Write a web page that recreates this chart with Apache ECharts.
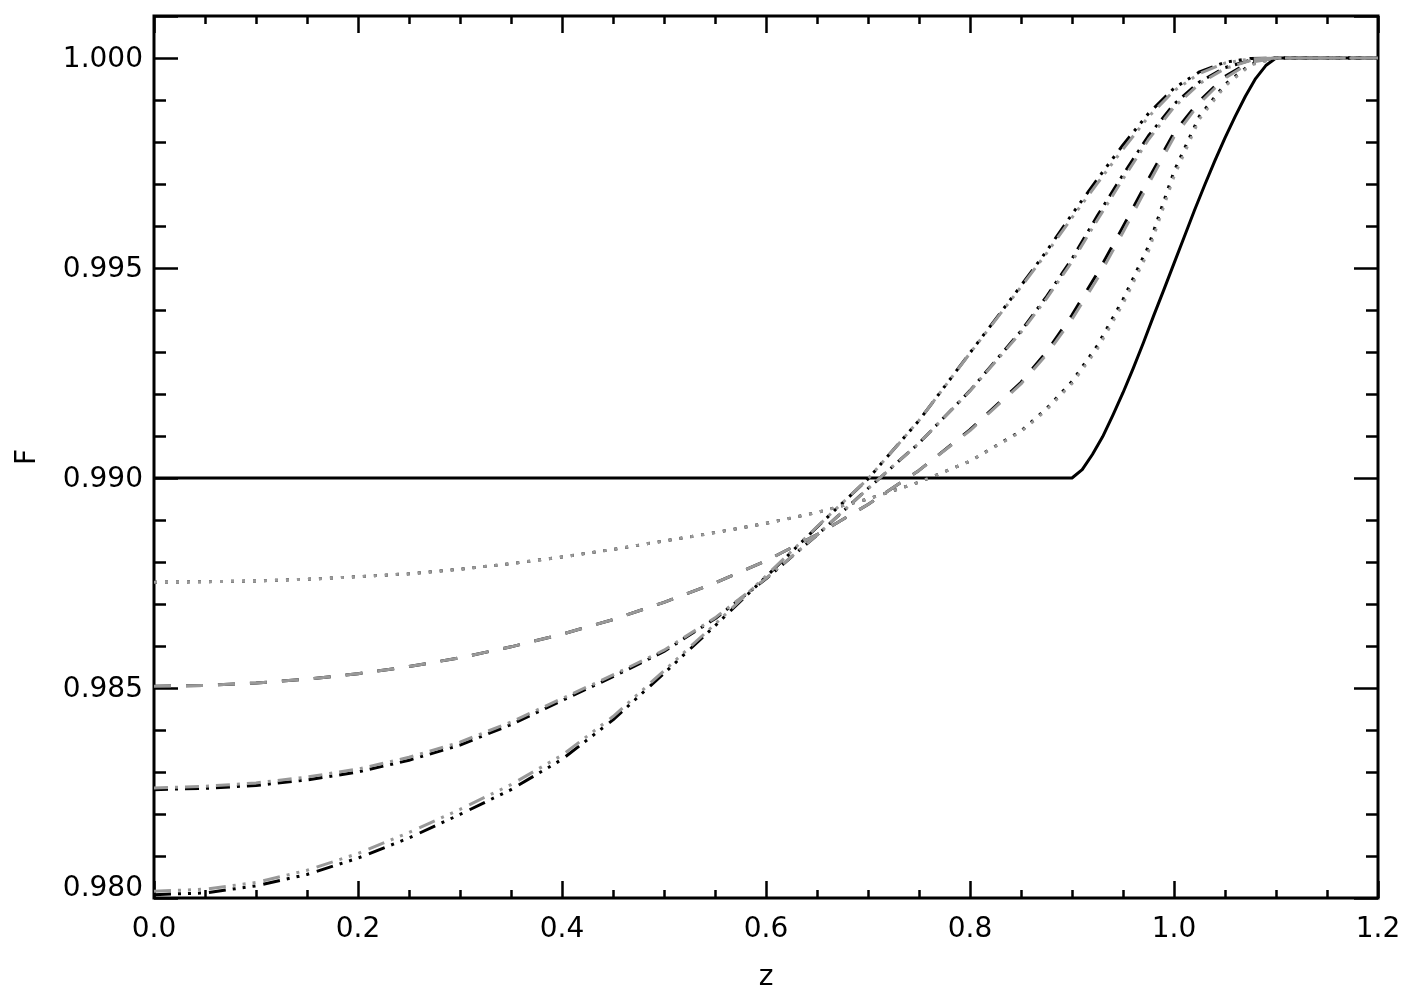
<!DOCTYPE html>
<html>
<head>
<meta charset="utf-8">
<script src="https://cdn.jsdelivr.net/npm/echarts@6/dist/echarts.min.js"></script>
<style>
html,body{margin:0;padding:0;background:#fff;}
#chart{width:1411px;height:997px;}
</style>
</head>
<body>
<div id="chart"></div>
<script>
// ---- data ----
const xTicks = [0.0, 0.2, 0.4, 0.6, 0.8, 1.0, 1.2];
const yTicks = [0.980, 0.985, 0.990, 0.995, 1.000];

// uniform source (solid)
const zSolid = [0, 0.9, 0.91, 0.92, 0.93, 0.94, 0.95, 0.96, 0.97, 0.98, 0.99, 1.0, 1.01, 1.02, 1.03, 1.04, 1.05, 1.06, 1.07, 1.08, 1.09, 1.1, 1.2];
const fSolid = [0.99, 0.99, 0.99020, 0.99056, 0.99098, 0.99149, 0.99203, 0.99261, 0.99322, 0.99386, 0.99448, 0.99511, 0.99574, 0.99637, 0.99697, 0.99755, 0.99810, 0.99861, 0.99909, 0.99951, 0.99982, 1.0, 1.0];

// sampling of the limb-darkened curves
const zLD = [0, 0.05, 0.1, 0.15, 0.2, 0.25, 0.3, 0.35, 0.4, 0.45, 0.5, 0.55, 0.6, 0.65, 0.7, 0.75, 0.8, 0.85, 0.875, 0.9, 0.925, 0.95, 0.975, 1.0, 1.025, 1.05, 1.075, 1.1, 1.2];

// dotted
const fDotBlack = [0.98752, 0.98753, 0.98755, 0.98759, 0.98765, 0.98772, 0.98783, 0.98796, 0.98812, 0.98830, 0.98850, 0.98870, 0.98892, 0.98918, 0.98950, 0.98990, 0.99040, 0.99112, 0.99165, 0.99230, 0.99316, 0.99425, 0.99552, 0.99730, 0.99862, 0.99937, 0.99985, 1.0, 1.0];
const fDotGray  = [0.98752, 0.98753, 0.98755, 0.98759, 0.98765, 0.98772, 0.98783, 0.98796, 0.98812, 0.98830, 0.98850, 0.98870, 0.98892, 0.98918, 0.98950, 0.98990, 0.99040, 0.99110, 0.99162, 0.99225, 0.99308, 0.99415, 0.99540, 0.99718, 0.99855, 0.99933, 0.99983, 1.0, 1.0];
// dashed
const fDashBlack = [0.98504, 0.98506, 0.98512, 0.98521, 0.98534, 0.98551, 0.98572, 0.98598, 0.98628, 0.98663, 0.98704, 0.98750, 0.98803, 0.98865, 0.98937, 0.99018, 0.99115, 0.99228, 0.99300, 0.99388, 0.99488, 0.99598, 0.99712, 0.99822, 0.99898, 0.99956, 0.99992, 1.0, 1.0];
const fDashGray  = [0.98504, 0.98506, 0.98512, 0.98521, 0.98534, 0.98551, 0.98572, 0.98598, 0.98628, 0.98663, 0.98704, 0.98750, 0.98803, 0.98865, 0.98937, 0.99018, 0.99113, 0.99224, 0.99294, 0.99378, 0.99475, 0.99585, 0.99700, 0.99812, 0.99892, 0.99952, 0.99990, 1.0, 1.0];
// dash-dot
const fDDBlack = [0.98258, 0.98261, 0.98268, 0.98281, 0.98300, 0.98328, 0.98364, 0.98413, 0.98470, 0.98527, 0.98587, 0.98665, 0.98760, 0.98864, 0.98975, 0.99083, 0.99208, 0.99350, 0.99432, 0.99522, 0.99625, 0.99722, 0.99815, 0.99890, 0.99943, 0.99977, 0.99995, 1.0, 1.0];
const fDDGray  = [0.98262, 0.98266, 0.98274, 0.98288, 0.98307, 0.98335, 0.98371, 0.98419, 0.98475, 0.98531, 0.98590, 0.98667, 0.98761, 0.98864, 0.98975, 0.99083, 0.99207, 0.99347, 0.99427, 0.99515, 0.99615, 0.99712, 0.99806, 0.99883, 0.99939, 0.99975, 0.99994, 1.0, 1.0];
// dash-dot-dot-dot
const fD3Black = [0.98008, 0.98012, 0.98029, 0.98056, 0.98095, 0.98143, 0.98199, 0.98258, 0.98330, 0.98424, 0.98535, 0.98648, 0.98765, 0.98883, 0.98998, 0.99137, 0.99298, 0.99458, 0.99540, 0.99628, 0.99712, 0.99793, 0.99868, 0.99928, 0.99967, 0.99990, 0.99999, 1.0, 1.0];
const fD3Gray  = [0.98016, 0.98021, 0.98037, 0.98066, 0.98106, 0.98156, 0.98211, 0.98270, 0.98340, 0.98432, 0.98541, 0.98652, 0.98767, 0.98884, 0.98998, 0.99137, 0.99297, 0.99455, 0.99535, 0.99620, 0.99702, 0.99783, 0.99860, 0.99922, 0.99963, 0.99988, 0.99998, 1.0, 1.0];

// ---- chart ----
const pairs = (zs, fs) => zs.map((z, i) => [z, fs[i]]);
const FONT = 'DejaVu Sans';
const BLACK = '#000000';
const GRAY = '#999999';
const LW = 3;

const patDot = [3, 8];
const patDash = [17, 15];
const patDashDot = [14, 7, 3, 7];
const patDash3Dot = [17, 7, 3, 7, 3, 7, 3, 8];

function lineSeries(name, zs, fs, color, pattern, z) {
  return {
    name: name,
    type: 'line',
    xAxisIndex: 0,
    yAxisIndex: 0,
    data: pairs(zs, fs),
    showSymbol: false,
    symbol: 'none',
    smooth: false,
    clip: true,
    z: z,
    lineStyle: { color: color, width: LW, type: pattern, cap: 'butt', join: 'round' },
    emphasis: { disabled: true }
  };
}

const tickStyle = { color: BLACK, width: 2.5 };
const isMajorY = v => Math.abs(v * 200 - Math.round(v * 200)) < 1e-6 && v <= 1.0000001;
const labelFont = { color: BLACK, fontFamily: FONT, fontSize: 28 };

function xAxisDef(pos, withLabels) {
  return {
    type: 'value', position: pos, gridIndex: 0,
    min: 0, max: 1.2, interval: 0.2,
    axisLine: { show: false, onZero: false },
    axisTick: { show: true, inside: true, length: 17, lineStyle: tickStyle },
    minorTick: { show: true, splitNumber: 4, length: 8, lineStyle: tickStyle },
    splitLine: { show: false },
    axisLabel: withLabels ? Object.assign({ show: true, margin: 18, formatter: v => v.toFixed(1) }, labelFont) : { show: false },
    name: withLabels ? 'z' : '',
    nameLocation: 'middle',
    nameGap: 66,
    nameTextStyle: labelFont
  };
}

function yAxisDef(pos, interval, len, withLabels) {
  return {
    type: 'value', position: pos, gridIndex: 0,
    min: 0.98, max: 1.001, interval: interval,
    axisLine: { show: false, onZero: false },
    axisTick: { show: true, inside: true, length: len, lineStyle: tickStyle },
    splitLine: { show: false },
    axisLabel: withLabels ? Object.assign({
      show: true, margin: 11,
      formatter: v => {
        if (!isMajorY(v)) return '';
        const s = v.toFixed(3);
        return Math.abs(v - yTicks[0]) < 1e-7 ? '{low|' + s + '}' : '{n|' + s + '}';
      },
      rich: {
        n: Object.assign({ padding: [4, 0, 0, 0] }, labelFont),
        low: Object.assign({ padding: [0, 0, 18, 0] }, labelFont)
      }
    }, labelFont) : { show: false },
    name: withLabels ? 'F' : '',
    nameLocation: 'middle',
    nameGap: 112,
    nameRotate: 90,
    nameTextStyle: labelFont
  };
}

const chart = echarts.init(document.getElementById('chart'), null, { renderer: 'canvas' });
chart.setOption({
  animation: false,
  backgroundColor: '#ffffff',
  grid: { left: 154, top: 16, right: 33, bottom: 92, show: true, borderColor: BLACK, borderWidth: 3, backgroundColor: 'transparent' },
  xAxis: [xAxisDef('bottom', true), xAxisDef('top', false)],
  yAxis: [
    yAxisDef('left', 0.001, 12, true),
    yAxisDef('left', 0.005, 24, false),
    yAxisDef('right', 0.001, 12, false),
    yAxisDef('right', 0.005, 24, false)
  ],
  series: [
    lineSeries('uniform', zSolid, fSolid, BLACK, 'solid', 2),
    lineSeries('dotted', zLD, fDotBlack, BLACK, patDot, 2),
    lineSeries('dashed', zLD, fDashBlack, BLACK, patDash, 2),
    lineSeries('dashdot', zLD, fDDBlack, BLACK, patDashDot, 2),
    lineSeries('dash3dot', zLD, fD3Black, BLACK, patDash3Dot, 2),
    lineSeries('dotted gray', zLD, fDotGray, GRAY, patDot, 3),
    lineSeries('dashed gray', zLD, fDashGray, GRAY, patDash, 3),
    lineSeries('dashdot gray', zLD, fDDGray, GRAY, patDashDot, 3),
    lineSeries('dash3dot gray', zLD, fD3Gray, GRAY, patDash3Dot, 3)
  ]
});
</script>
</body>
</html>
